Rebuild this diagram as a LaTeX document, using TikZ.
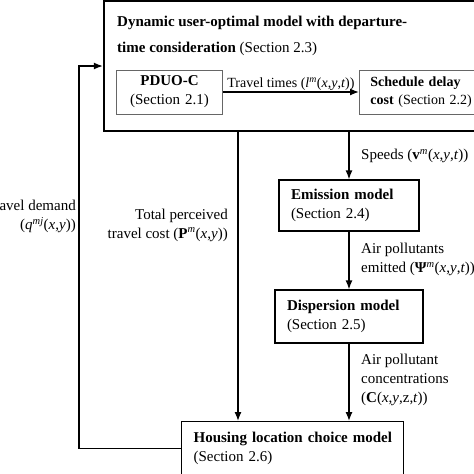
\documentclass[tikz,border=0pt]{standalone}
\usepackage{fontspec}
\setmainfont{Liberation Serif}
\usetikzlibrary{arrows.meta}
\newcommand\argxy{(\textit{x},\textit{y})}
\newcommand\argxyt{(\textit{x},\textit{y},\textit{t})}
\newcommand\supm{\textsuperscript{\textit{m}}}
\tikzset{
  box/.style={draw, line width=1.3pt, align=left, inner xsep=12pt, inner ysep=0pt, text width=#1},
  subbox/.style={draw=black!60, line width=0.8pt, inner xsep=11pt, inner ysep=0pt, minimum height=44pt, text width=#1},
  lbl/.style={inner sep=1pt},
  flow/.style={->, line width=1.3pt}
}
\begin{document}
\begin{tikzpicture}[x=1pt, y=-1pt, >={Latex[length=9pt,width=7pt]},
  font=\fontsize{15}{19}\selectfont]
  \useasboundingbox (0,0) rectangle (474,474);
  % departure-time model
  \node[draw, line width=2.4pt, minimum width=386pt, minimum height=130pt, inner sep=0pt] (dyn) at (297,66) {};
  \node[anchor=north west, align=left, inner sep=0pt] (title) at (117,15.5)
    {\textbf{Dynamic user-optimal model with departure-}\\[7pt]\textbf{time consideration} (Section 2.3)};
  \node[subbox=84pt, align=center] (pduo) at (169.5,92) {\textbf{PDUO-C}\\(Section 2.1)};
  \node[subbox=110pt, align=left, anchor=west, font=\fontsize{14}{18}\selectfont] (sched) at (359,92) {\textbf{Schedule delay}\\\textbf{cost} (Section 2.2)};
  \draw[flow] (pduo) -- node[lbl, above, font=\fontsize{14}{18}\selectfont] {Travel times (\textit{l}\supm\argxyt)} (sched);
  % environmental chain
  \node[box=116pt, minimum height=51pt] (emis) at (349,205.5) {\textbf{Emission model}\\(Section 2.4)};
  \node[box=124pt, minimum height=53pt] (disp) at (349,316.5) {\textbf{Dispersion model}\\(Section 2.5)};
  \node[box=198pt, minimum height=54pt, anchor=north west] (house) at (181,421) {\mbox{\textbf{Housing location choice model}}\\(Section 2.6)};
  \coordinate (cost) at (238,0);
  \coordinate (fb) at (79,0);
  \draw[flow] (emis.north |- dyn.south) -- (emis.north);
  \draw[flow] (emis) -- (disp);
  \draw[flow] (disp.south) -- (disp.south |- house.north);
  \draw[flow] (cost |- dyn.south) -- (cost |- house.north);
  \draw[flow] (house.west) -- (house.west -| fb) |- (dyn.west);
  % labels
  \node[lbl, anchor=west] (speed) at (360,156) {Speeds (\textbf{v}\supm\argxyt)};
  \node[lbl, anchor=west, align=left] (emit) at (360,259.5) {Air pollutants\\emitted (\textbf{Ψ}\supm\argxyt)};
  \node[lbl, anchor=west, align=left] (conc) at (360,380) {Air pollutant\\concentrations\\(\textbf{C}(\textit{x},\textit{y},z,\textit{t}))};
  \node[lbl, anchor=east, align=right] (tpc) at (229,225) {Total perceived\\travel cost (\textbf{P}\supm\argxy)};
  \node[lbl, anchor=east, align=right] (dem) at (77,216.5) {Travel demand\\(\textit{q}\textsuperscript{\textit{mj}}\argxy)};
\end{tikzpicture}
\end{document}
